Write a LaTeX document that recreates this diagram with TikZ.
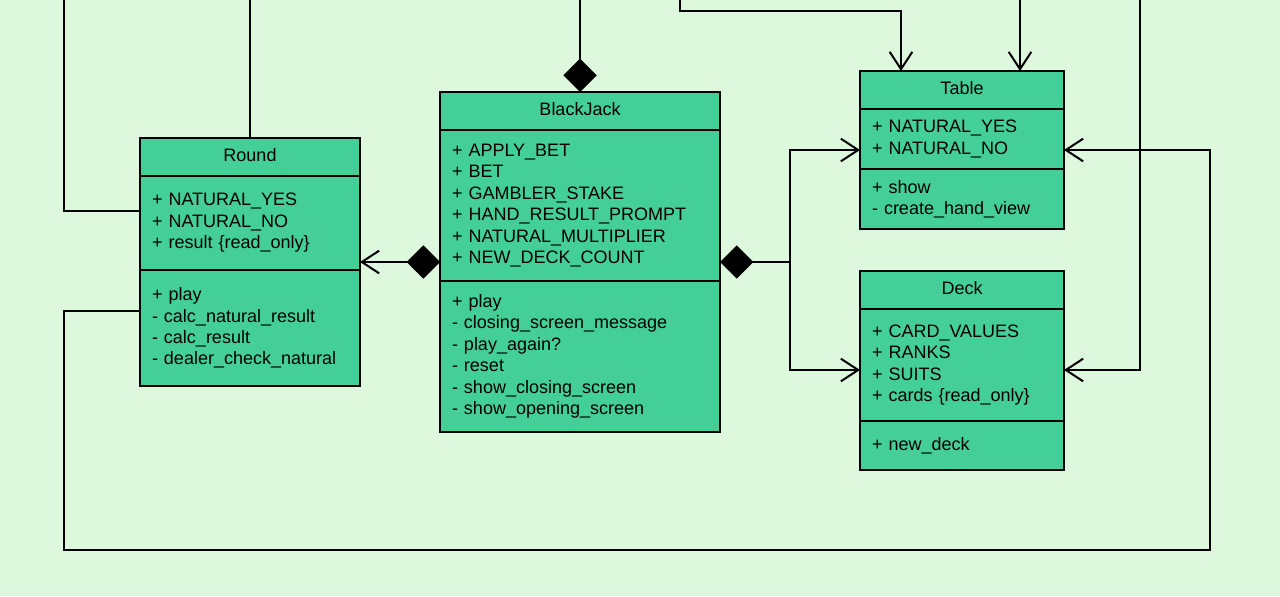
\documentclass[tikz,border=0pt]{standalone}
\usepackage{fontspec}
\setmainfont{Liberation Sans}
\usetikzlibrary{positioning}
\usetikzlibrary{arrows.meta}
\definecolor{bggreen}{RGB}{221,248,220}
\definecolor{boxgreen}{RGB}{68,206,152}
\tikzset{
    classhead/.style = {draw=black, line width=1.5pt, fill=boxgreen, outer sep=0pt, inner xsep=9pt, inner ysep=0pt, align=center, text depth=3pt, minimum height=28.5pt, anchor=north west},
    classpart/.style = {draw=black, line width=1.5pt, fill=boxgreen, outer sep=0pt, inner xsep=9pt, inner ysep=0pt, align=left, below=0pt of #1},
    link/.style = {line width=1.5pt},
    assoc/.style = {line width=1.5pt, -{Straight Barb[length=13pt,width=17pt]}},
    comp/.style = {line width=1.5pt, {Diamond[length=25pt,width=25pt]}-},
    compassoc/.style = {line width=1.5pt, {Diamond[length=25pt,width=25pt]}-{Straight Barb[length=13pt,width=17pt]}},
}

\begin{document}
\begin{tikzpicture}[
    x=0.75pt, y=-0.75pt,
    font=\fontsize{13.5}{16.1}\selectfont
]
\useasboundingbox[fill=bggreen] (0,0) rectangle (1280,596);

% classes
\node[classhead, text width=147pt] at (140,138) (round) {Round};
\node[classpart=round, text width=147pt, minimum height=70.5pt] (roundattr) {+ NATURAL\_YES\\+ NATURAL\_NO\\+ result \{read\_only\}};
\node[classpart=roundattr, text width=147pt, minimum height=87pt] (roundops) {+ play\\- calc\_natural\_result\\- calc\_result\\- dealer\_check\_natural};

\node[classhead, text width=192pt] at (440,92) (bj) {BlackJack};
\node[classpart=bj, text width=192pt, minimum height=113.25pt] (bjattr) {+ APPLY\_BET\\+ BET\\+ GAMBLER\_STAKE\\+ HAND\_RESULT\_PROMPT\\+ NATURAL\_MULTIPLIER\\+ NEW\_DECK\_COUNT};
\node[classpart=bjattr, text width=192pt, minimum height=113.25pt] (bjops) {+ play\\- closing\_screen\_message\\- play\_again?\\- reset\\- show\_closing\_screen\\- show\_opening\_screen};

\node[classhead, text width=135pt] at (860,71) (table) {Table};
\node[classpart=table, text width=135pt, minimum height=45pt] (tableattr) {+ NATURAL\_YES\\+ NATURAL\_NO};
\node[classpart=tableattr, text width=135pt, minimum height=45pt] (tableops) {+ show\\- create\_hand\_view};

\node[classhead, text width=135pt] at (860,271) (deck) {Deck};
\node[classpart=deck, text width=135pt, minimum height=84pt] (deckattr) {+ CARD\_VALUES\\+ RANKS\\+ SUITS\\+ cards \{read\_only\}};
\node[classpart=deckattr, text width=135pt, minimum height=36.75pt] (deckops) {+ new\_deck};

% free ends and bends
\coordinate (topa) at (64,0);
\coordinate (topb) at (250,0);
\coordinate (topc) at (580,0);
\coordinate (topd) at (680,0);
\coordinate (kneed) at (680,11);
\coordinate (tope) at (1020,0);
\coordinate (topf) at (1140,0);
\coordinate (fork) at (790,262);
\coordinate (loopsw) at (64,550);
\coordinate (loopse) at (1210,550);

% connectors
\draw[link] (topa) |- ([yshift=9pt]roundattr.west);
\draw[link] (topb) -- (round.north);
\draw[comp] (bj.north) -- (topc);
\draw[assoc] (topd) -- (kneed) -| ([xshift=-45.75pt]table.north);
\draw[assoc] (tope) -- ([xshift=43.5pt]table.north);
\draw[assoc] (topf) |- ([yshift=-3.75pt]deckattr.east);
\draw[compassoc] ([yshift=14.25pt]bjattr.south west) -- ([yshift=6pt]roundattr.south east);
\draw[compassoc] ([yshift=14.25pt]bjattr.south east) -- (fork) |- ([yshift=-8.25pt]tableattr.west);
\draw[assoc] (fork) |- ([yshift=-3.75pt]deckattr.west);
\draw[assoc] ([yshift=12.75pt]roundops.west) -| (loopsw) -- (loopse) |- ([yshift=-8.25pt]tableattr.east);
\end{tikzpicture}
\end{document}
